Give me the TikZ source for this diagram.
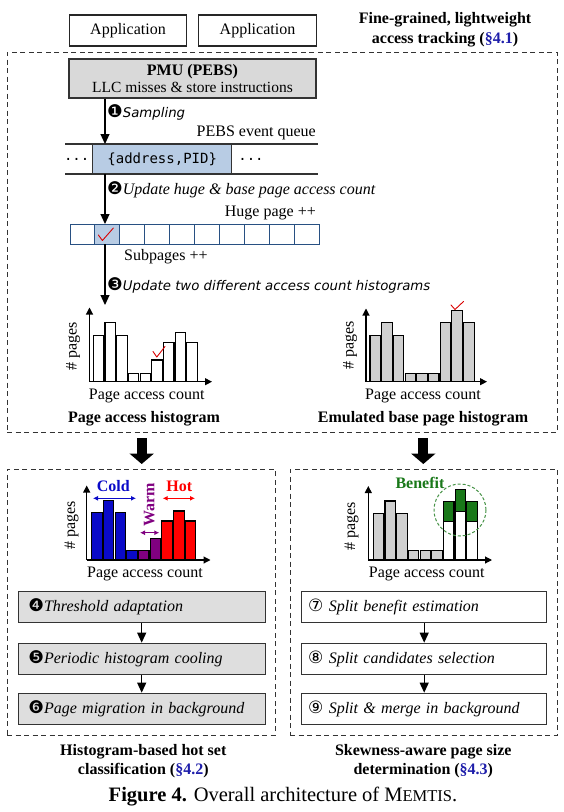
\documentclass[tikz,border=0pt]{standalone}
\usepackage{fontspec}
\setmainfont{Liberation Serif}
\newfontfamily\dvs{DejaVu Sans}
\newfontfamily\dvsmono{DejaVu Sans Mono}
\usetikzlibrary{arrows.meta,calc}
\definecolor{secblue}{RGB}{30,30,170}
\definecolor{qblue}{RGB}{184,204,228}
\definecolor{arrblue}{RGB}{40,80,130}
\definecolor{pmugray}{RGB}{217,217,217}
\definecolor{stepgray}{RGB}{222,222,222}
\definecolor{hgray}{RGB}{208,208,208}
\definecolor{coldblue}{RGB}{10,10,200}
\definecolor{warmpurple}{RGB}{128,0,128}
\definecolor{hotred}{RGB}{255,0,0}
\definecolor{bengreen}{RGB}{25,120,25}
\newcommand\ssit{\dvs\itshape\fontsize{13.3}{15}\selectfont}
\newcommand\cnum[1]{{\dvs\fontsize{17.5}{17}\selectfont #1}}
\newcommand\onum[1]{{\dvs\fontsize{17}{17}\selectfont #1}}
\begin{document}
\begin{tikzpicture}[x=1pt,y=-1pt,font=\fontsize{16}{19}\selectfont,
  appbox/.style={draw=black!85, line width=1.1pt, fill=white, minimum width=117.5pt, minimum height=31pt, inner sep=0pt},
  dashbox/.style={draw=black!80, line width=1pt, dash pattern=on 5pt off 3.5pt, inner sep=0pt},
  pmubox/.style={draw=black!80, line width=1.2pt, fill=pmugray, inner sep=0pt, align=center},
  qbox/.style={draw=black!80, line width=1.1pt, fill=qblue, inner sep=0pt},
  cell/.style={draw=arrblue, line width=1pt, minimum width=24.93pt, minimum height=20pt, inner sep=0pt},
  arr/.style={line width=1.2pt, -{Triangle[width=9pt,length=10pt]}},
  bigarr/.style={line width=10pt, -{Triangle[width=24pt,length=10.5pt]}},
  bar/.style={draw=black, line width=1.1pt},
  axis/.style={line width=1.1pt, -{Triangle[width=7pt,length=7pt]}},
  lab/.style={inner sep=0pt},
  dbl/.style={line width=1pt, {Latex[length=5pt,width=5pt]}-{Latex[length=5pt,width=5pt]}},
  stepL/.style={draw=black!80, line width=1.1pt, fill=stepgray, minimum width=246.7pt, minimum height=31pt, text width=226.7pt, inner xsep=10pt, inner ysep=0pt, align=left},
  stepR/.style={draw=black!80, line width=1.1pt, fill=white, minimum width=245pt, minimum height=31pt, text width=232pt, inner xsep=6.5pt, inner ysep=0pt, align=left},
  chk/.style={draw=red!85!black, line width=0.9pt, line cap=round, line join=round}]
\useasboundingbox (0,0) rectangle (563,812);

% top
\node[appbox] (app1) at (128,30.5) {Application};
\node[appbox] (app2) at (257.5,30.5) {Application};
\node[lab, align=center, font=\fontsize{16}{20}\selectfont\bfseries] (t1) at (445,30) {Fine-grained, lightweight\\access tracking (\textcolor{secblue}{§4.1})};
\node[dashbox, minimum width=550pt, minimum height=380pt] (track) at (282,242) {};

\node[pmubox, minimum width=247pt, minimum height=39pt] (pmu) at (192.5,78.5)
  {\textbf{PMU (PEBS)}\\[-2pt]{\fontsize{15.5}{16}\selectfont LLC misses \& store instructions}};

% queue
\coordinate (ql1) at (65,144); \coordinate (qr1) at (318,144);
\coordinate (ql2) at (65,174); \coordinate (qr2) at (318,174);
\draw[line width=1.1pt, black!80] (ql1) -- (qr1);
\draw[line width=1.1pt, black!80] (ql2) -- (qr2);
\node[qbox, minimum width=139pt, minimum height=30pt] (qe) at (162.2,159) {\dvsmono\fontsize{14}{14}\selectfont \{address,PID\}};
\node[lab] (dl) at (76.7,159) {\dvsmono\fontsize{14}{14}\selectfont ...};
\node[lab] (dr) at (251,159) {\dvsmono\fontsize{14}{14}\selectfont ...};
\node[lab, anchor=east] (pq) at (316,133) {PEBS event queue};

\coordinate (a1e) at (105,144);
\draw[arr] (pmu.south -| a1e) -- (a1e);
\node[lab, anchor=west] (s1) at (107,112.7) {\cnum{❶}\ssit Sampling};

% subpage array
\foreach \i in {0,...,9} \node[cell] (c\i) at ({70+24.93*\i+12.47},234) {};
\node[cell, fill=qblue] at (c1) {};
\draw[chk] ($(c1.center)+(-9,1)$) -- ($(c1.center)+(-5,6.5)$) -- ($(c1.center)+(6,-6)$);

\coordinate (a2s) at (105,174); \coordinate (a2e) at (105,224);
\draw[arr] (a2s) -- (a2e);
\node[lab, anchor=west] (s2) at (107,189.3) {\cnum{❷}\itshape Update huge \& base page access count};
\node[lab, anchor=east] (hp) at (316,213.3) {Huge page ++};
\node[lab, anchor=west] (sp) at (124,256.7) {Subpages ++};

\coordinate (a3s) at (105,244); \coordinate (a3e) at (105,305);
\draw[arr] (a3s) -- (a3e);
\node[lab, anchor=west] (s3) at (107,285) {\cnum{❸}\ssit Update two different access count histograms};

% left top histogram
\foreach \h [count=\i from 0] in {335.7,322.7,335.7,373.3,373.3,360,342.7,332.7,342.7}
  \draw[bar, fill=white] ({93.3+11.7*\i},381.7) rectangle ({93.3+11.7*\i+10.5},\h);
\draw[axis] (89.5,381.7) -- (212,381.7);
\draw[axis] (89.5,381.7) -- (89.5,307.5);
\draw[chk] (153,351.5) -- (156.8,357) -- (165,346.5);
\node[lab, rotate=90] (yl1) at (73,346.7) {\# pages};
\node[lab] (xl1) at (146.7,395.7) {Page access count};
\node[lab, font=\fontsize{16}{19}\selectfont\bfseries] (h1) at (144,419) {Page access histogram};

% right top histogram
\foreach \h [count=\i from 0] in {335.7,322.7,335.7,373.3,373.3,373.3,322.7,310.7,322.7}
  \draw[bar, fill=hgray] ({370+11.7*\i},381.7) rectangle ({370+11.7*\i+10.5},\h);
\draw[axis] (366,381.7) -- (487,381.7);
\draw[axis] (366,381.7) -- (366,308.5);
\draw[chk] (451,305) -- (455,309.5) -- (463.5,301.5);
\node[lab, rotate=90] (yl2) at (350,345) {\# pages};
\node[lab] (xl2) at (423,395.7) {Page access count};
\node[lab, font=\fontsize{16}{19}\selectfont\bfseries] (h2) at (423,419) {Emulated base page histogram};

% bottom containers and big arrows
\node[dashbox, minimum width=268pt, minimum height=266pt] (hotbox) at (141,602) {};
\node[dashbox, minimum width=267pt, minimum height=266pt] (skewbox) at (423.5,602) {};
\coordinate (b1s) at (141.7,438); \coordinate (b2s) at (423.3,438);
\draw[bigarr] (b1s) -- ($(b1s |- hotbox.north)+(0,-4.5)$);
\draw[bigarr] (b2s) -- ($(b2s |- skewbox.north)+(0,-4.5)$);

% bottom left histogram
\foreach \h/\c [count=\i from 0] in {512.7/coldblue,500.7/coldblue,512.7/coldblue,550.7/coldblue,550.7/warmpurple,538.3/warmpurple,521/hotred,511/hotred,521/hotred}
  \draw[bar, fill=\c] ({91.7+11.7*\i},560) rectangle ({91.7+11.7*\i+10.5},\h);
\draw[axis] (86.7,560) -- (210.5,560);
\draw[axis] (86.7,560) -- (86.7,485.5);
\node[lab, rotate=90] (yl3) at (71.7,525) {\# pages};
\node[lab] (xl3) at (145,574) {Page access count};
\node[lab, text=coldblue, font=\fontsize{16}{19}\selectfont\bfseries] (cold) at (113.3,486.5) {Cold};
\draw[dbl, coldblue] (93,498.3) -- (136,498.3);
\node[lab, text=hotred, font=\fontsize{16}{19}\selectfont\bfseries] (hot) at (179.3,486.5) {Hot};
\draw[dbl, hotred] (162.7,498.3) -- (195,498.3);
\node[lab, rotate=90, text=warmpurple, font=\fontsize{16}{19}\selectfont\bfseries] (warm) at (149.3,505) {Warm};
\draw[dbl, warmpurple] (140,532.7) -- (159.3,532.7);

% bottom right histogram
\foreach \h [count=\i from 0] in {513.3,501,513.3,550.7,550.7,550.7}
  \draw[bar, fill=hgray] ({373.3+11.7*\i},560) rectangle ({373.3+11.7*\i+10.5},\h);
\foreach \w/\g [count=\i from 6] in {521.7/501.7,511.7/489.3,521.7/501.7}{
  \draw[bar, fill=white] ({373.3+11.7*\i},560) rectangle ({373.3+11.7*\i+10.5},\w);
  \draw[bar, fill=bengreen] ({373.3+11.7*\i},\w) rectangle ({373.3+11.7*\i+10.5},\g);
}
\draw[axis] (368.3,560) -- (492,560);
\draw[axis] (368.3,560) -- (368.3,486);
\draw[bengreen!80, line width=1pt, dash pattern=on 3pt off 2pt] (460,510) circle (26);
\node[lab, text=bengreen, font=\fontsize{16}{19}\selectfont\bfseries] (ben) at (420,482.5) {Benefit};
\node[lab, rotate=90] (yl4) at (351.7,526.7) {\# pages};
\node[lab] (xl4) at (426.7,574) {Page access count};

% steps left
\node[stepL] (s4) at (141.7,607.2) {\cnum{❹}\itshape Threshold adaptation};
\node[stepL] (s5) at (141.7,658.7) {\cnum{❺}\itshape Periodic histogram cooling};
\node[stepL] (s6) at (141.7,708.7) {\cnum{❻}\itshape Page migration in background};
\draw[arr] (s4.south) -- (s5.north);
\draw[arr] (s5.south) -- (s6.north);

% steps right
\node[stepR] (s7) at (424.2,607.2) {\onum{⑦} \itshape Split benefit estimation};
\node[stepR] (s8) at (424.2,658.7) {\onum{⑧} \itshape Split candidates selection};
\node[stepR] (s9) at (424.2,708.7) {\onum{⑨} \itshape Split \& merge in background};
\draw[arr] (s7.south) -- (s8.north);
\draw[arr] (s8.south) -- (s9.north);

% captions
\node[lab, align=center, font=\fontsize{16}{19}\selectfont\bfseries] (c42) at (143.3,761.2) {Histogram-based hot set\\classification (\textcolor{secblue}{§4.2})};
\node[lab, align=center, font=\fontsize{16}{19}\selectfont\bfseries] (c43) at (423.3,761.2) {Skewness-aware page size\\determination (\textcolor{secblue}{§4.3})};
\node[lab, font=\fontsize{20.5}{24}\selectfont] (fig) at (283,797) {\textbf{Figure 4.} Overall architecture of M{\fontsize{16.5}{20}\selectfont EMTIS}.};
\end{tikzpicture}
\end{document}
